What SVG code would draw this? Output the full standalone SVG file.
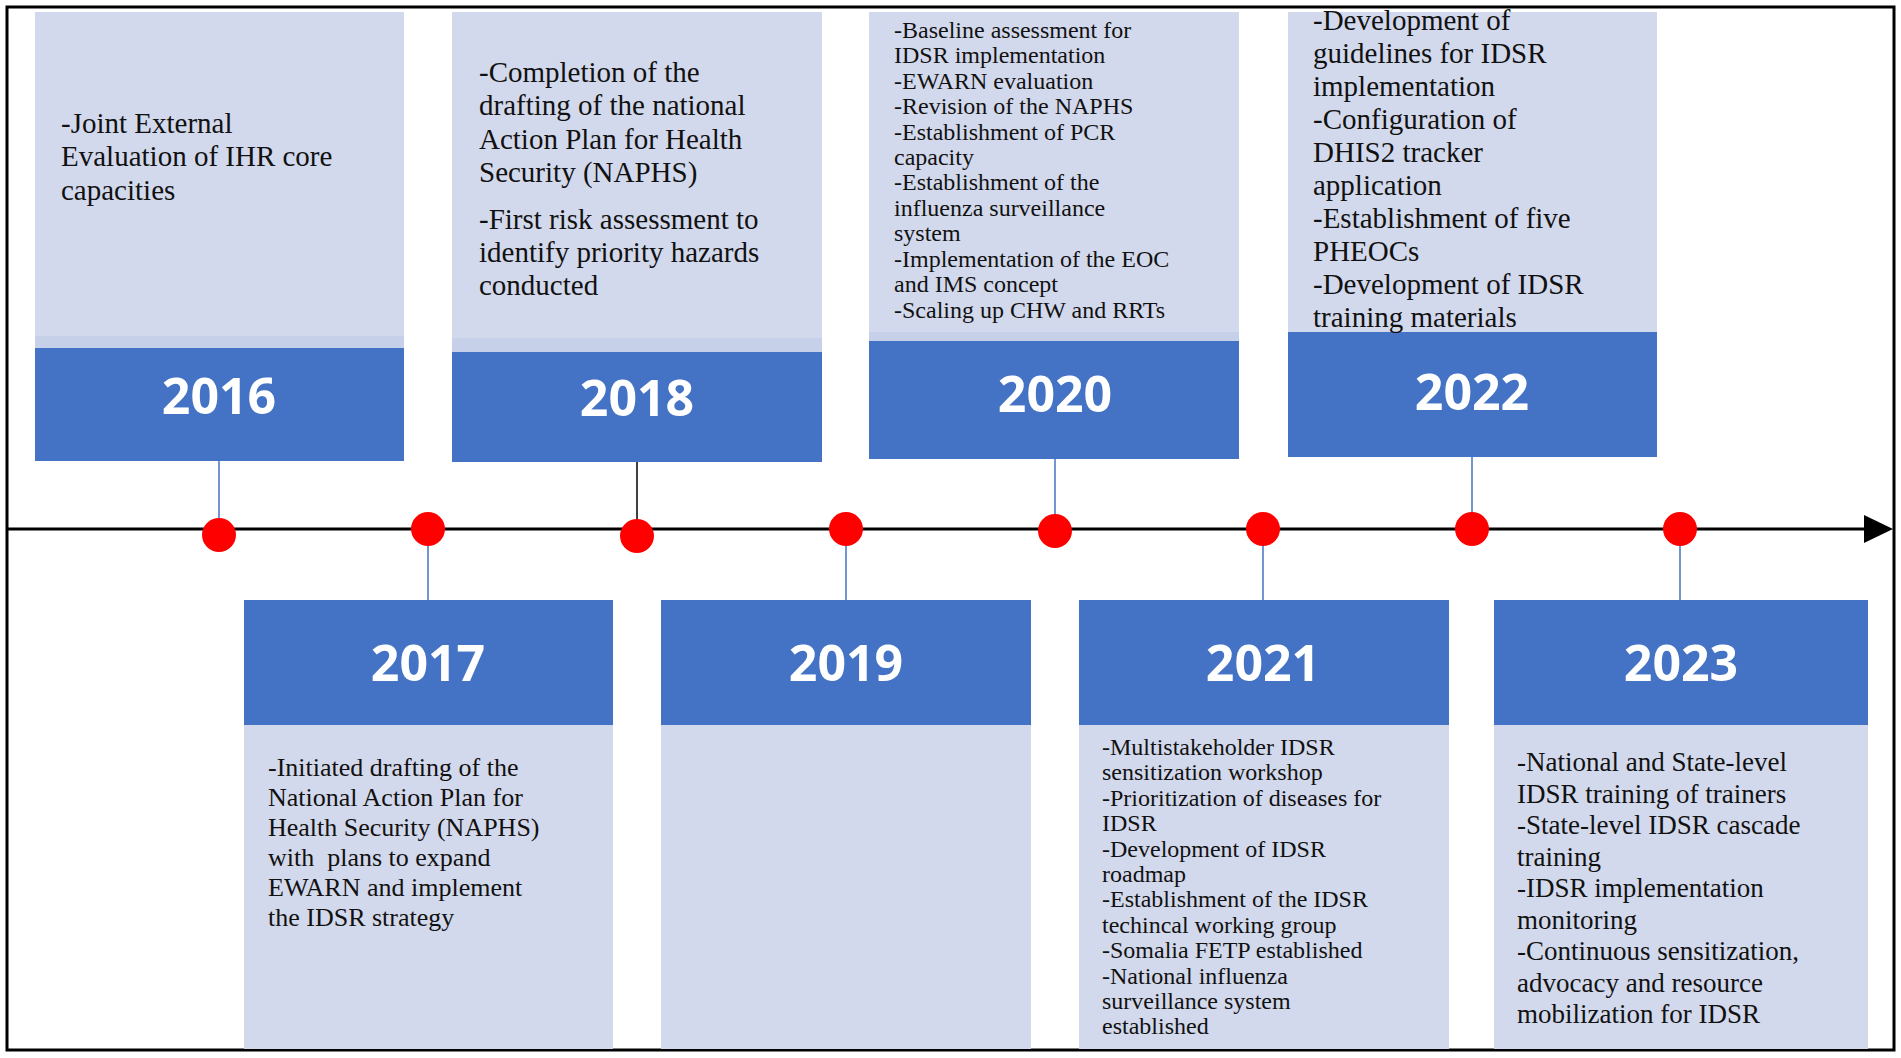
<svg xmlns="http://www.w3.org/2000/svg" width="1901" height="1058" viewBox="0 0 1901 1058">
<defs>
<style>
.lt{fill:#d3d9ec}
.bd{fill:#c6d0e8}
.bl{fill:#4472c4}
.yr{font-family:"Open Sans","Liberation Sans",sans-serif;font-weight:bold;font-size:50px;fill:#fff;text-anchor:middle}
.tx{font-family:"Liberation Serif",serif;fill:#111}
.dot{fill:#ff0000}
.cn{stroke:#4472c4;stroke-width:1.5}
</style>
<marker id="ah" markerWidth="10" markerHeight="10" refX="9" refY="5" orient="auto" markerUnits="userSpaceOnUse"><path d="M0,0L10,5L0,10z" fill="#000"/></marker>
</defs>
<rect x="0" y="0" width="1901" height="1058" fill="#fff"/>
<rect x="7" y="7" width="1887" height="1043" fill="none" stroke="#000" stroke-width="3"/>
<g id="connectors">
<line x1="7" y1="529" x2="1866" y2="529" stroke="#000" stroke-width="3"/>
<path d="M1864,515L1893,529L1864,543z" fill="#000"/>
<line class="cn" x1="219" y1="461" x2="219" y2="534"/>
<line x1="637" y1="462" x2="637" y2="536" stroke="#000" stroke-width="1.5"/>
<line class="cn" x1="1055" y1="459" x2="1055" y2="531"/>
<line class="cn" x1="1472" y1="457" x2="1472" y2="529"/>
<line class="cn" x1="428" y1="529" x2="428" y2="600"/>
<line class="cn" x1="846" y1="529" x2="846" y2="600"/>
<line class="cn" x1="1263" y1="529" x2="1263" y2="600"/>
<line class="cn" x1="1680" y1="529" x2="1680" y2="600"/>
<circle class="dot" cx="219" cy="535" r="17"/>
<circle class="dot" cx="428" cy="529" r="17"/>
<circle class="dot" cx="637" cy="536" r="17"/>
<circle class="dot" cx="846" cy="529" r="17"/>
<circle class="dot" cx="1055" cy="531" r="17"/>
<circle class="dot" cx="1263" cy="529" r="17"/>
<circle class="dot" cx="1472" cy="529" r="17"/>
<circle class="dot" cx="1680" cy="529" r="17"/>
</g>
<g id="n2016">
<rect class="lt" x="35" y="12" width="369" height="336"/>
<rect class="bd" x="35" y="336" width="369" height="12"/>
<rect class="bl" x="35" y="348" width="369" height="113"/>
<text class="yr" x="219" y="414">2016</text>
<text class="tx" font-size="29" x="61" y="133">-Joint External</text>
<text class="tx" font-size="29" x="61" y="166">Evaluation of IHR core</text>
<text class="tx" font-size="29" x="61" y="200">capacities</text>
</g>
<g id="n2018">
<rect class="lt" x="452" y="12" width="370" height="340"/>
<rect class="bd" x="452" y="338" width="370" height="14"/>
<rect class="bl" x="452" y="352" width="370" height="110"/>
<text class="yr" x="637" y="416">2018</text>
<g class="tx" font-size="29">
<text x="479" y="82">-Completion of the</text>
<text x="479" y="115">drafting of the national</text>
<text x="479" y="149">Action Plan for Health</text>
<text x="479" y="182">Security (NAPHS)</text>
<text x="479" y="229">-First risk assessment to</text>
<text x="479" y="262">identify priority hazards</text>
<text x="479" y="295">conducted</text>
</g>
</g>
<g id="n2020">
<rect class="lt" x="869" y="12" width="370" height="329"/>
<rect class="bd" x="869" y="332" width="370" height="9"/>
<rect class="bl" x="869" y="341" width="370" height="118"/>
<text class="yr" x="1055" y="412">2020</text>
<g class="tx" font-size="24">
<text x="894" y="38">-Baseline assessment for</text>
<text x="894" y="63">IDSR implementation</text>
<text x="894" y="89">-EWARN evaluation</text>
<text x="894" y="114">-Revision of the NAPHS</text>
<text x="894" y="140">-Establishment of PCR</text>
<text x="894" y="165">capacity</text>
<text x="894" y="190">-Establishment of the</text>
<text x="894" y="216">influenza surveillance</text>
<text x="894" y="241">system</text>
<text x="894" y="267">-Implementation of the EOC</text>
<text x="894" y="292">and IMS concept</text>
<text x="894" y="318">-Scaling up CHW and RRTs</text>
</g>
</g>
<g id="n2022">
<rect class="lt" x="1288" y="12" width="369" height="320"/>
<rect class="bl" x="1288" y="332" width="369" height="125"/>
<text class="yr" x="1472" y="410">2022</text>
<g class="tx" font-size="29">
<text x="1313" y="30">-Development of</text>
<text x="1313" y="63">guidelines for IDSR</text>
<text x="1313" y="96">implementation</text>
<text x="1313" y="129">-Configuration of</text>
<text x="1313" y="162">DHIS2 tracker</text>
<text x="1313" y="195">application</text>
<text x="1313" y="228">-Establishment of five</text>
<text x="1313" y="261">PHEOCs</text>
<text x="1313" y="294">-Development of IDSR</text>
<text x="1313" y="327">training materials</text>
</g>
</g>
<g id="n2017">
<rect class="bl" x="244" y="600" width="369" height="125"/>
<rect class="lt" x="244" y="725" width="369" height="324"/>
<text class="yr" x="428" y="681">2017</text>
<g class="tx" font-size="26">
<text x="268" y="776">-Initiated drafting of the</text>
<text x="268" y="806">National Action Plan for</text>
<text x="268" y="836">Health Security (NAPHS)</text>
<text x="268" y="866" xml:space="preserve">with  plans to expand</text>
<text x="268" y="896">EWARN and implement</text>
<text x="268" y="926">the IDSR strategy</text>
</g>
</g>
<g id="n2019">
<rect class="bl" x="661" y="600" width="370" height="125"/>
<rect class="lt" x="661" y="725" width="370" height="324"/>
<text class="yr" x="846" y="681">2019</text>
</g>
<g id="n2021">
<rect class="bl" x="1079" y="600" width="370" height="125"/>
<rect class="lt" x="1079" y="725" width="370" height="324"/>
<text class="yr" x="1263" y="681">2021</text>
<g class="tx" font-size="24">
<text x="1102" y="755">-Multistakeholder IDSR</text>
<text x="1102" y="780">sensitization workshop</text>
<text x="1102" y="806">-Prioritization of diseases for</text>
<text x="1102" y="831">IDSR</text>
<text x="1102" y="857">-Development of IDSR</text>
<text x="1102" y="882">roadmap</text>
<text x="1102" y="907">-Establishment of the IDSR</text>
<text x="1102" y="933">techincal working group</text>
<text x="1102" y="958">-Somalia FETP established</text>
<text x="1102" y="984">-National influenza</text>
<text x="1102" y="1009">surveillance system</text>
<text x="1102" y="1034">established</text>
</g>
</g>
<g id="n2023">
<rect class="bl" x="1494" y="600" width="374" height="125"/>
<rect class="lt" x="1494" y="725" width="374" height="324"/>
<text class="yr" x="1681" y="681">2023</text>
<g class="tx" font-size="27">
<text x="1517" y="771">-National and State-level</text>
<text x="1517" y="803">IDSR training of trainers</text>
<text x="1517" y="834">-State-level IDSR cascade</text>
<text x="1517" y="866">training</text>
<text x="1517" y="897">-IDSR implementation</text>
<text x="1517" y="929">monitoring</text>
<text x="1517" y="960">-Continuous sensitization,</text>
<text x="1517" y="992">advocacy and resource</text>
<text x="1517" y="1023">mobilization for IDSR</text>
</g>
</g>
</svg>
